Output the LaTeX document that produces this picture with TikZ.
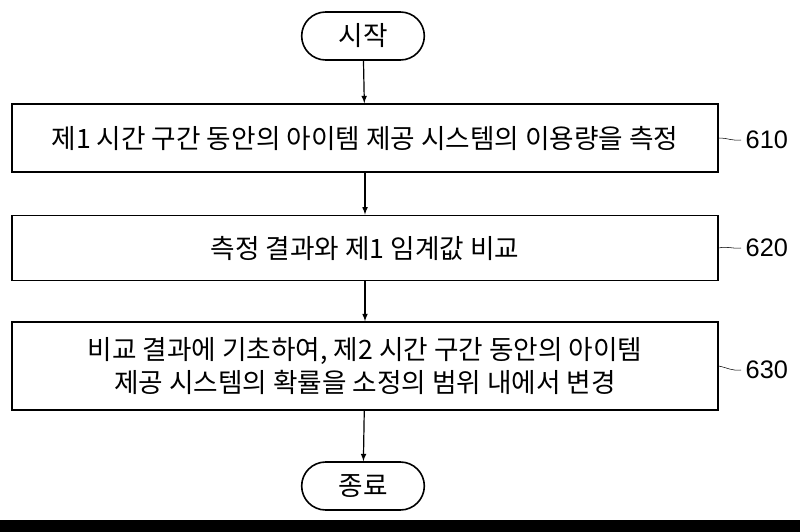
\documentclass[tikz,border=0pt]{standalone}
\usepackage{fontspec}
\setmainfont{Noto Sans CJK KR}
\setsansfont{Liberation Sans}
\usetikzlibrary{positioning}
\tikzset{
  stepbox/.style={draw,line width=1.2pt,minimum width=529.5pt,align=center,font=\fontsize{20}{25}\selectfont},
  term/.style={draw,line width=1.2pt,rounded corners=18pt,minimum width=92pt,minimum height=36pt,font=\fontsize{20}{22}\selectfont},
  flow/.style={-latex,line width=0.9pt},
  reflbl/.style={font=\sffamily\fontsize{19}{20}\selectfont,anchor=west}
}
\begin{document}
\begin{tikzpicture}[x=0.75pt,y=0.75pt,yscale=-1,xscale=1]
\useasboundingbox (0,0) rectangle (800,532);
\fill (0,520) rectangle (800,532);

% Terminals
\node [term] (start) at (363,36) {시작};
\node [term] (stop) at (363,486) {종료};

% Steps
\node [stepbox,minimum height=51pt] (s610) at (365,138) {제1 시간 구간 동안의 아이템 제공 시스템의 이용량을 측정};
\node [stepbox,minimum height=49pt] (s620) at (365,248) {측정 결과와 제1 임계값 비교};
\node [stepbox,minimum height=66pt] (s630) at (365,366) {비교 결과에 기초하여, 제2 시간 구간 동안의 아이템\\제공 시스템의 확률을 소정의 범위 내에서 변경};

% Flow
\draw [flow] (start) -- (s610);
\draw [flow] (s610) -- (s620);
\draw [flow] (s620) -- (s630);
\draw [flow] (s630) -- (stop);

% Reference labels
\node [reflbl] (l610) at (741,140) {610};
\node [reflbl] (l620) at (741,248) {620};
\node [reflbl] (l630) at (741,370) {630};
\draw (s610.east) .. controls (728,138) and (732,141) .. (l610.west);
\draw (s620.east) .. controls (728,246) and (732,249) .. (l620.west);
\draw (s630.east) .. controls (728,368) and (732,371) .. (l630.west);
\end{tikzpicture}
\end{document}
